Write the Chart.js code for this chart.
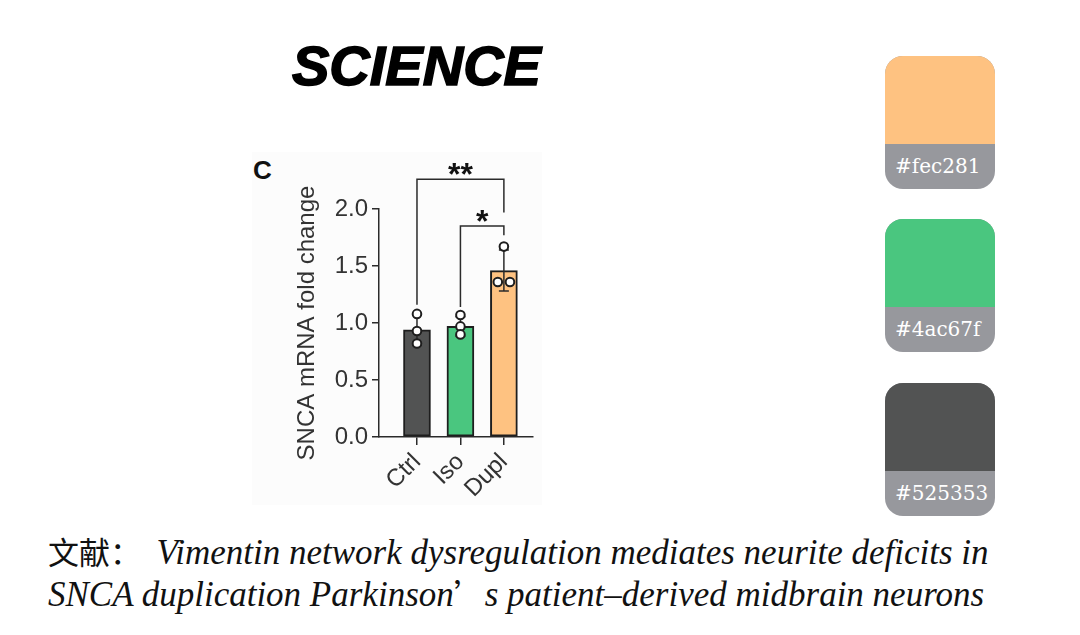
<!DOCTYPE html>
<html lang="zh">
<head>
<meta charset="UTF-8">
<title>SNCA mRNA fold change</title>
<script src="https://cdn.jsdelivr.net/npm/chart.js@4.4.0/dist/chart.umd.min.js"></script>
<style>
  body{margin:0;background:#fff;width:1080px;height:635px;position:relative;overflow:hidden;font-family:"Liberation Sans",Arial,sans-serif}
  #logo{position:absolute;left:292px;top:38px;font:italic 900 56px/56px "Liberation Sans",Arial,sans-serif;color:#000;-webkit-text-stroke:1.6px #000}
  #fig{position:absolute;left:252px;top:152px;width:290px;height:353px;background:#fcfcfc}
  #panel{position:absolute;left:253px;top:156px;font:bold 26px/28px "Liberation Sans",Arial,sans-serif;color:#111}
  #wrap{position:absolute;left:240px;top:150px;width:320px;height:360px}
  .sw{position:absolute;left:885px;width:110px;height:133px;border-radius:18px;overflow:hidden;background:#97989d}
  .sw div{height:88px}
  .sw span{display:block;color:#fff;font:20px/44px "DejaVu Serif",serif;padding-left:10px}
  #cap{position:absolute;left:48px;top:531px;font:italic 35px/40px "Liberation Serif",serif;color:#111;white-space:nowrap}
  .cjk{font-family:"Noto Sans CJK SC",sans-serif;font-style:normal;font-size:31px}
</style>
</head>
<body>
<div id="logo">SCIENCE</div>
<div id="fig"></div>
<div id="panel">C</div>
<div id="wrap"><canvas id="chart" width="320" height="360"></canvas></div>

<div class="sw" style="top:56px"><div style="background:#fec281"></div><span>#fec281</span></div>
<div class="sw" style="top:219px"><div style="background:#4ac67f"></div><span>#4ac67f</span></div>
<div class="sw" style="top:383px"><div style="background:#525353"></div><span>#525353</span></div>

<div id="cap"><span class="cjk">文献：　</span>Vimentin network dysregulation mediates neurite deficits in<br>SNCA duplication Parkinson<span class="cjk">’</span>s patient–derived midbrain neurons</div>

<script>
// data
const categories = ['Ctrl', 'Iso', 'Dupl'];
const means = [0.94, 0.97, 1.46];
const sds = [0.13, 0.085, 0.18];
const ctrlPts = [1.08, 0.93, 0.82];
const isoPts = [1.07, 0.97, 0.90];
const duplPts = [1.67, 1.36, 1.36];
const duplJitter = [0, -0.14, 0.14];
const barColors = ['#525353', '#4ac67f', '#fec281'];
// significance brackets: from bar, to bar, height, drop on left, drop on right
const sigs = [
  {from: 0, to: 2, y: 2.26, left: 1.16, right: 1.97, text: '**'},
  {from: 1, to: 2, y: 1.85, left: 1.14, right: 1.77, text: '*'}
];

const ink = '#2b2b2b';

const points = [];
ctrlPts.forEach(v => points.push({x: 0, y: v}));
isoPts.forEach(v => points.push({x: 1, y: v}));
duplPts.forEach((v, i) => points.push({x: 2 + duplJitter[i], y: v}));

const extras = {
  id: 'extras',
  afterDatasetDraw(chart, args) {
    if (args.index !== 0) return;
    const ctx = chart.ctx, xs = chart.scales.x, ys = chart.scales.y;
    ctx.save();
    ctx.strokeStyle = ink;
    ctx.lineWidth = 1.5;
    means.forEach((m, i) => {
      const x = xs.getPixelForValue(i);
      const top = ys.getPixelForValue(m + sds[i]);
      const bot = ys.getPixelForValue(m - sds[i]);
      ctx.beginPath();
      ctx.moveTo(x, top); ctx.lineTo(x, bot);
      ctx.moveTo(x - 5, top); ctx.lineTo(x + 5, top);
      ctx.moveTo(x - 5, bot); ctx.lineTo(x + 5, bot);
      ctx.stroke();
    });
    ctx.restore();
  },
  afterDraw(chart) {
    const ctx = chart.ctx, xs = chart.scales.x, ys = chart.scales.y;
    ctx.save();
    ctx.strokeStyle = ink;
    ctx.fillStyle = '#111';
    ctx.lineWidth = 1.5;
    ctx.font = 'bold 32px "Liberation Sans", Arial, sans-serif';
    ctx.textAlign = 'center';
    ctx.textBaseline = 'alphabetic';
    sigs.forEach(s => {
      const x1 = xs.getPixelForValue(s.from), x2 = xs.getPixelForValue(s.to);
      const y = ys.getPixelForValue(s.y);
      ctx.beginPath();
      ctx.moveTo(x1, ys.getPixelForValue(s.left));
      ctx.lineTo(x1, y); ctx.lineTo(x2, y);
      ctx.lineTo(x2, ys.getPixelForValue(s.right));
      ctx.stroke();
      const m = ctx.measureText(s.text);
      // put the bottom of the star glyphs a few px above the bracket
      ctx.fillText(s.text, (x1 + x2) / 2, y - 4 - m.actualBoundingBoxDescent);
    });
    ctx.restore();
  }
};

new Chart(document.getElementById('chart'), {
  data: {
    datasets: [{
      type: 'bar',
      order: 2,
      data: means.map((v, i) => ({x: i, y: v})),
      backgroundColor: barColors,
      borderColor: '#1e1e1e',
      borderWidth: 2,
      borderSkipped: false,
      barThickness: 27
    }, {
      type: 'scatter',
      order: 1,
      data: points,
      pointRadius: 4.3,
      pointBackgroundColor: '#fff',
      pointBorderColor: '#1e1e1e',
      pointBorderWidth: 2
    }]
  },
  options: {
    responsive: false,
    animation: false,
    layout: {padding: {top: 59, right: 27, left: 0, bottom: 0}},
    plugins: {legend: {display: false}, tooltip: {enabled: false}},
    scales: {
      x: {
        type: 'linear',
        offset: false,
        min: -0.874,
        max: 2.67,
        afterBuildTicks: s => { s.ticks = categories.map((c, i) => ({value: i})); },
        afterFit: s => { s.height = 73; },
        ticks: {
          callback: v => categories[v],
          autoSkip: false,
          maxRotation: 45,
          minRotation: 45,
          padding: 3,
          color: '#333',
          font: {family: '"Liberation Sans", Arial, sans-serif', size: 24}
        },
        grid: {offset: false, drawOnChartArea: false, drawTicks: true, tickLength: 8, color: ink, lineWidth: 1.5},
        border: {display: true, color: ink, width: 1.5}
      },
      y: {
        min: 0,
        max: 2,
        afterFit: s => { s.width = 139; },
        ticks: {
          stepSize: 0.5,
          callback: v => v.toFixed(1),
          padding: 4,
          color: '#333',
          font: {family: '"Liberation Sans", Arial, sans-serif', size: 24}
        },
        grid: {drawOnChartArea: false, drawTicks: true, tickLength: 7, color: ink, lineWidth: 1.5},
        border: {display: true, color: ink, width: 1.5},
        title: {
          display: true,
          text: 'SNCA mRNA fold change',
          color: '#333',
          padding: {top: 53, bottom: 0},
          font: {family: '"Liberation Sans", Arial, sans-serif', size: 24}
        }
      }
    }
  },
  plugins: [extras]
});
</script>
</body>
</html>
